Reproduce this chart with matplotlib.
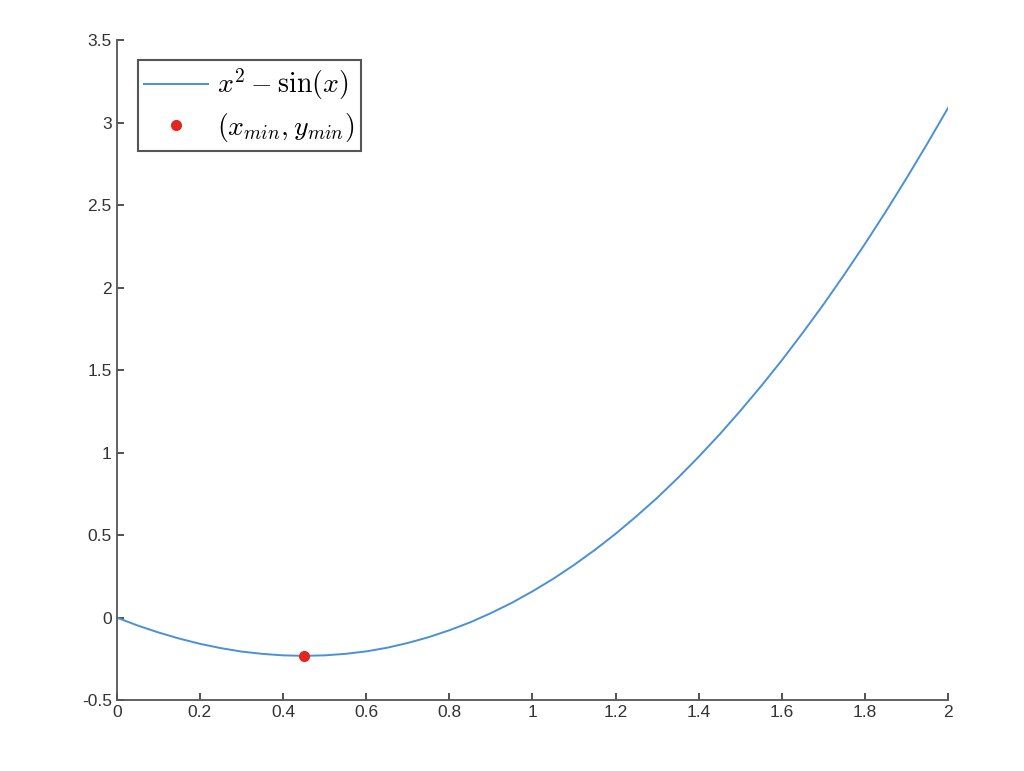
import matplotlib
matplotlib.use("Agg")
import matplotlib.pyplot as plt

# values
x_vals = [0.0, 0.05, 0.1, 0.15, 0.2, 0.25, 0.3, 0.35, 0.4, 0.45, 0.5, 0.55, 0.6, 0.65, 0.7,
          0.75, 0.8, 0.85, 0.9, 0.95, 1.0, 1.05, 1.1, 1.15, 1.2, 1.25, 1.3, 1.35, 1.4,
          1.45, 1.5, 1.55, 1.6, 1.65, 1.7, 1.75, 1.8, 1.85, 1.9, 1.95, 2.0]
y_vals = [0.0, -0.048, -0.090, -0.127, -0.159, -0.185, -0.206, -0.220, -0.229, -0.232,
          -0.229, -0.220, -0.205, -0.183, -0.154, -0.119, -0.077, -0.029, 0.027, 0.089,
          0.159, 0.235, 0.319, 0.410, 0.508, 0.614, 0.726, 0.847, 0.975, 1.110, 1.253,
          1.403, 1.560, 1.726, 1.898, 2.079, 2.266, 2.461, 2.664, 2.874, 3.091]
x_min = [0.450]
y_min = [-0.232]

x_ticks = [0, 0.2, 0.4, 0.6, 0.8, 1, 1.2, 1.4, 1.6, 1.8, 2]
x_labels = ["0", "0.2", "0.4", "0.6", "0.8", "1", "1.2", "1.4", "1.6", "1.8", "2"]
y_ticks = [-0.5, 0, 0.5, 1, 1.5, 2, 2.5, 3, 3.5]
y_labels = ["-0.5", "0", "0.5", "1", "1.5", "2", "2.5", "3", "3.5"]

plt.rcParams["font.family"] = ["Liberation Sans", "DejaVu Sans"]
plt.rcParams["mathtext.fontset"] = "cm"

fig = plt.figure(figsize=(10.24, 7.71), dpi=100)
ax = fig.add_axes([0.114, 0.092, 0.812, 0.856])

ax.plot(x_vals, y_vals, color="#4a90d9", linewidth=1.4, label=r"$x^2-\sin(x)$")
ax.plot(x_min, y_min, "o", color="#e3261f", markersize=7, linestyle="none",
        label=r"$(x_{min},y_{min})$")

ax.set_xlim(0, 2)
ax.set_ylim(-0.5, 3.5)
ax.set_xticks(x_ticks, x_labels)
ax.set_yticks(y_ticks, y_labels)
ax.tick_params(direction="in", labelsize=12.5, colors="#333333", length=5, width=1.2)
for s in ["top", "right"]:
    ax.spines[s].set_visible(False)
for s in ["left", "bottom"]:
    ax.spines[s].set_color("#555555")
    ax.spines[s].set_linewidth(1.3)

leg = ax.legend(loc="upper left", bbox_to_anchor=(0.025, 0.97), fontsize=20,
                fancybox=False, edgecolor="#555555", framealpha=1,
                handlelength=2.3, handletextpad=0.3, borderpad=0.25,
                labelspacing=0.3, borderaxespad=0)
leg.get_frame().set_linewidth(1.5)

fig.savefig("out.png", dpi=100)
